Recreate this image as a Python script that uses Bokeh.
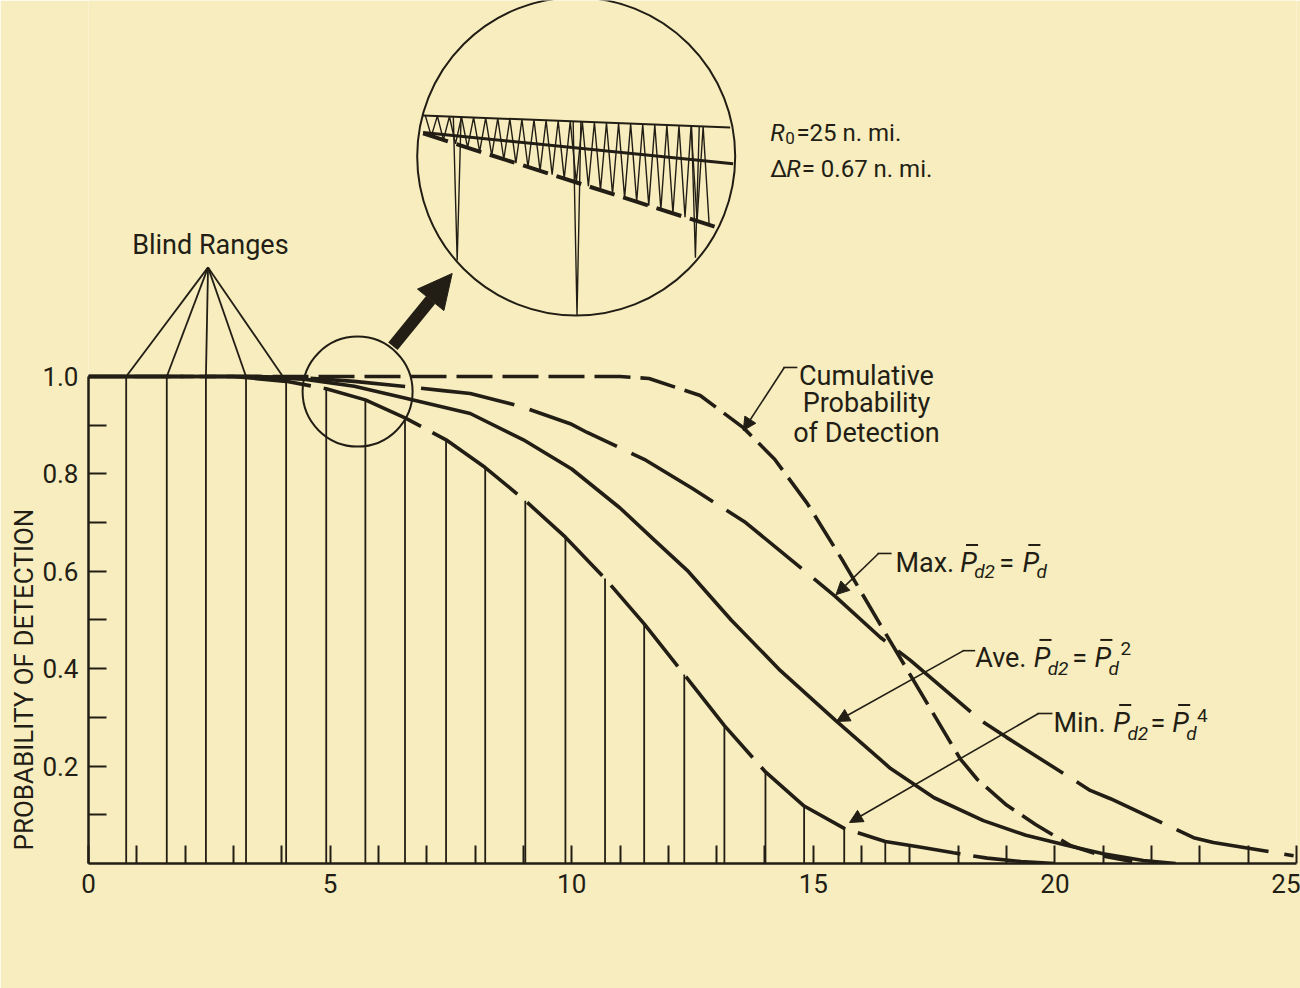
import numpy as np
from bokeh.plotting import figure
from bokeh.models import ColumnDataSource, FixedTicker, Arrow, NormalHead, PrintfTickFormatter, Title
from bokeh.core.properties import value
from bokeh.embed import file_html
from bokeh.resources import INLINE

# ---------------- data ----------------
# range-gate positions (n. mi.) and single-gate detection probability
gate_x = [0.78, 1.62, 2.43, 3.26, 4.09, 4.92, 5.73, 6.55, 7.40, 8.21,
          9.04, 9.87, 10.69, 11.50, 12.33, 13.16, 14.01, 14.81, 15.64, 16.49]
gate_pd = [1.0, 1.0, 1.0, 1.0, 0.99, 0.975, 0.952, 0.915, 0.870, 0.813,
           0.745, 0.670, 0.585, 0.492, 0.388, 0.283, 0.188, 0.118, 0.072, 0.045]

# cumulative probability of detection
cum_x = [0, 11.0, 11.6, 12.66, 13.55, 14.2, 14.87, 15.62, 16.39, 17.2,
         18.04, 18.4, 19.0, 19.6, 20.32, 21.0, 21.6]
cum_y = [1.0, 1.0, 0.996, 0.961, 0.895, 0.83, 0.74, 0.62, 0.49, 0.355,
         0.215, 0.172, 0.12, 0.08, 0.037, 0.015, 0.004]

# Max.  Pd2 = Pd
max_x = [0, 3.3, 4.5, 5.5, 6.5, 7.34, 7.9, 8.9, 9.97, 10.32, 11.5, 12.5,
         13.6, 14.73, 15.46, 16.39, 17.01, 18.46, 19.0, 20.73, 21.15, 22.87, 23.28, 24.94]
max_y = [1.0, 1.0, 0.997, 0.99, 0.98, 0.971, 0.965, 0.94, 0.903, 0.885, 0.83, 0.77,
         0.70, 0.608, 0.548, 0.464, 0.417, 0.294, 0.259, 0.150, 0.133, 0.053, 0.043, 0.016]

# Ave.  Pd2 = Pd^2
ave_x = [0, 3.5, 4.5, 5.5, 6.5, 7.9, 9.0, 10.0, 11.0, 11.7, 12.39, 13.3, 14.32,
         15.46, 16.6, 17.5, 18.52, 19.4, 20.26, 21.0, 21.83, 22.5]
ave_y = [1.0, 1.0, 0.994, 0.98, 0.957, 0.924, 0.87, 0.81, 0.73, 0.665, 0.602, 0.50, 0.396,
         0.294, 0.195, 0.135, 0.088, 0.058, 0.037, 0.02, 0.006, 0.0]

# Min.  Pd2 = Pd^4
min_x = [0, 3.0, 4.09, 4.92, 5.73, 6.55, 7.40, 8.21, 9.04, 9.87, 10.69, 11.50,
         12.33, 13.16, 14.01, 14.81, 15.64, 16.49, 17.2, 17.9, 18.6, 19.3, 20.0]
min_y = [1.0, 1.0, 0.99, 0.975, 0.952, 0.915, 0.870, 0.813, 0.745, 0.670, 0.585, 0.492,
         0.388, 0.283, 0.188, 0.118, 0.072, 0.045, 0.034, 0.022, 0.011, 0.004, 0.0]

x_ticks = [0, 5, 10, 15, 20, 25]
x_minor = [i for i in range(1, 25) if i % 5]
y_ticks = [0.2, 0.4, 0.6, 0.8, 1.0]
y_minor = [0.1, 0.3, 0.5, 0.7, 0.9]

INK = "#221e15"
PAPER = "#f8edbe"
FONT = "Roboto"

p = figure(width=1300, height=988, x_range=(0, 25), y_range=(0, 1.772),
           output_backend="svg", toolbar_location=None, title=None,
           min_border_left=88, min_border_right=4, min_border_top=0, min_border_bottom=125)
p.background_fill_color = PAPER
p.border_fill_color = PAPER
p.outline_line_color = None
p.grid.visible = False

# axes
for ax in (p.xaxis, p.yaxis):
    ax.axis_line_color = INK
    ax.axis_line_width = 2.5
    ax.major_tick_line_color = INK
    ax.minor_tick_line_color = INK
    ax.major_tick_line_width = 2
    ax.minor_tick_line_width = 2
    ax.major_tick_in = 18
    ax.major_tick_out = 0
    ax.minor_tick_in = 18
    ax.minor_tick_out = 0
    ax.major_label_text_font = FONT
    ax.major_label_text_font_size = "26px"
    ax.major_label_text_color = INK

p.xaxis.ticker = FixedTicker(ticks=x_ticks, minor_ticks=x_minor)
p.xaxis.bounds = (0, 25)
p.xaxis.major_label_standoff = 10
p.yaxis.ticker = FixedTicker(ticks=y_ticks, minor_ticks=y_minor)
p.yaxis.bounds = (0, 1)
p.yaxis.formatter = PrintfTickFormatter(format="%.1f")
p.yaxis.major_label_standoff = 10

# y title, placed along the 0..1 part of the axis
p.add_layout(Title(text="PROBABILITY OF DETECTION", align="left", offset=13,
                   text_font=FONT, text_font_size="26px", text_font_style="normal",
                   text_color=INK, standoff=2), "left")

# range-gate verticals
gsrc = ColumnDataSource(dict(x=gate_x, y0=[0.0] * len(gate_x), y1=gate_pd))
p.segment(x0="x", y0="y0", x1="x", y1="y1", source=gsrc, line_color=INK, line_width=1.8)

# curves
p.line(cum_x, cum_y, line_color=INK, line_width=3.6, line_dash="36 10")
p.line(max_x, max_y, line_color=INK, line_width=3.6, line_dash="95 16")
p.line(ave_x, ave_y, line_color=INK, line_width=3.6)
p.line(min_x, min_y, line_color=INK, line_width=3.6, line_dash="105 13")

# Blind ranges fan
apex_x, apex_y = 2.474, 1.224
p.segment(x0=[apex_x] * 5, y0=[apex_y] * 5, x1=gate_x[:5], y1=gate_pd[:5],
          line_color=INK, line_width=1.8)


def put(x, y, s, size=27, style="normal", align="left", baseline="alphabetic"):
    p.text(x=[x], y=[y], text=[s], text_font=value(FONT), text_font_size=value(f"{size}px"),
           text_font_style=value(style), text_color=INK, text_align=value(align),
           text_baseline=value(baseline))


def pbar(x, y):
    # italic P with an over-bar
    put(x, y, "P", 27, "italic")
    p.segment(x0=[x + 0.12], y0=[y + 0.038], x1=[x + 0.37], y1=[y + 0.038],
              line_color=INK, line_width=2)


put(0.903, 1.269, "Blind Ranges")

# magnifier on the plot and the enlarged view
p.scatter(x=[5.569], y=[0.969], size=110, marker="circle", fill_color=None,
          line_color=INK, line_width=2)
p.scatter(x=[10.093], y=[1.4517], size=318, marker="circle", fill_color=None,
          line_color=INK, line_width=2)

# enlarged view contents (illustration)
tx0, tx1, ty0, ty1 = 6.925, 13.28, 1.536, 1.511
lx0, lx1, ly0, ly1 = 6.925, 13.01, 1.499, 1.306
p.line([tx0, tx1], [ty0, ty1], line_color=INK, line_width=2)
p.line([6.925, 13.34], [1.501, 1.437], line_color=INK, line_width=3)
p.line([lx0, lx1], [ly0, ly1], line_color=INK, line_width=4, line_dash="26 9")


def ytop(x):
    return ty0 + (ty1 - ty0) * (x - tx0) / (tx1 - tx0)


def ylow(x):
    return ly0 + (ly1 - ly0) * (x - lx0) / (lx1 - lx0)


zx, zy = [], []
xx = 6.97
k = 0
while xx < 12.95:
    zx.append(xx)
    zy.append(ytop(xx) if k % 2 == 0 else ylow(xx))
    xx += 0.125
    k += 1
p.line(zx, zy, line_color=INK, line_width=1.4)

spike_x = [7.63, 10.11, 12.56]
spike_b = [1.238, 1.125, 1.244]
for sx, sb in zip(spike_x, spike_b):
    p.line([sx - 0.08, sx, sx + 0.08], [ytop(sx - 0.08), sb, ytop(sx + 0.08)],
           line_color=INK, line_width=1.4)

p.add_layout(Arrow(end=NormalHead(size=34, fill_color=INK, line_color=INK),
                   x_start=6.30, y_start=1.062, x_end=7.526, y_end=1.2115,
                   line_width=12, line_color=INK))

# R0 / delta R text
put(14.11, 1.499, "R", 24, "italic")
put(14.42, 1.489, "0", 17)
put(14.65, 1.499, "=25 n. mi.", 24)
put(14.11, 1.427, "\u0394", 24)
put(14.44, 1.427, "R", 24, "italic")
put(14.76, 1.427, "= 0.67 n. mi.", 24)

# Cumulative label
put(16.10, 1.002, "Cumulative", align="center")
put(16.10, 0.945, "Probability", align="center")
put(16.10, 0.883, "of Detection", align="center")


def leader(hx0, hx1, hy, ex, ey):
    p.segment(x0=[hx0], y0=[hy], x1=[hx1], y1=[hy], line_color=INK, line_width=1.6)
    p.add_layout(Arrow(end=NormalHead(size=13, fill_color=INK, line_color=INK),
                       x_start=hx0 + 0.02, y_start=hy, x_end=ex, y_end=ey,
                       line_width=1.6, line_color=INK))


leader(14.38, 14.67, 1.0185, 13.55, 0.889)
leader(16.33, 16.62, 0.6366, 15.47, 0.552)
leader(18.09, 18.35, 0.437, 15.48, 0.2916)
leader(19.64, 19.95, 0.308, 15.75, 0.0842)

# Max
put(16.70, 0.616, "Max.")
pbar(18.04, 0.616)
put(18.33, 0.600, "d2", 19, "italic")
put(18.85, 0.616, "=")
pbar(19.33, 0.616)
put(19.62, 0.600, "d", 19, "italic")
# Ave
put(18.35, 0.421, "Ave.")
pbar(19.56, 0.421)
put(19.85, 0.400, "d2", 19, "italic")
put(20.36, 0.421, "=")
pbar(20.82, 0.421)
put(21.11, 0.400, "d", 19, "italic")
put(21.36, 0.4415, "2", 19)
# Min
put(19.97, 0.2875, "Min.")
pbar(21.21, 0.2875)
put(21.50, 0.267, "d2", 19, "italic")
put(21.98, 0.2875, "=")
pbar(22.43, 0.2875)
put(22.72, 0.267, "d", 19, "italic")
put(22.94, 0.304, "4", 19)

open("out.html", "w").write(file_html(p, INLINE))
